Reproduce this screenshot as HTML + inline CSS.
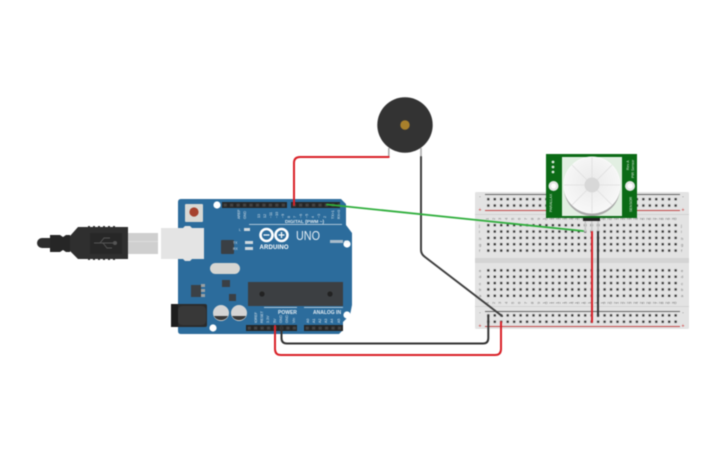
<!DOCTYPE html>
<html><head><meta charset="utf-8"><style>
html,body{margin:0;padding:0;background:#fff;width:725px;height:453px;overflow:hidden}
svg{display:block;filter:blur(0.4px)}
text{font-family:"Liberation Sans",sans-serif}
</style></head><body>
<svg xmlns="http://www.w3.org/2000/svg" width="725" height="453" viewBox="0 0 725 453">
<defs>
<pattern id="h" patternUnits="userSpaceOnUse" width="6.46" height="6.35"><rect x="1.8" y="1.75" width="2.8" height="2.8" fill="#bdbdbd"/><rect x="2.3" y="2.25" width="1.9" height="1.9" fill="#222"/></pattern>
<pattern id="p" patternUnits="userSpaceOnUse" width="6.46" height="6"><rect width="6.46" height="6" fill="#262626"/><rect x="1.6" y="1.6" width="3.2" height="3" fill="#444"/></pattern>
<radialGradient id="d" cx="50%" cy="45%" r="55%"><stop offset="0" stop-color="#eaeaea"/><stop offset="1" stop-color="#f8f8f8"/></radialGradient>
</defs>

<!-- USB cable -->
<path d="M50,238H42a5,5 0 0 0 0,10H50Z" fill="#2d2d2d"/>
<path d="M50,235H60L63,237L66,235H70V252H66L63,250L60,252H50Z" fill="#262626"/>
<path d="M70,236L78,227H128V259H78L70,251Z" fill="#2f2f2f"/>
<path d="M88,226h2v1h-2zM93,226h2v1h-2zM98,226h2v1h-2zM103,226h2v1h-2zM108,226h2v1h-2zM113,226h2v1h-2zM88,259h2v1h-2zM93,259h2v1h-2zM98,259h2v1h-2zM103,259h2v1h-2zM108,259h2v1h-2zM113,259h2v1h-2z" fill="#333"/>
<rect x="90" y="233" width="32" height="21" fill="#272727"/>
<path d="M94,243H117M100,243L104,238H110M103,243L107,248H112" stroke="#555" stroke-width="1" fill="none"/><circle cx="115" cy="243" r="2" fill="#555"/>
<rect x="128" y="233" width="30" height="21" fill="#cfcfcf"/>
<rect x="128" y="241" width="30" height="1" fill="#dcdcdc"/>

<!-- Arduino board -->
<path d="M181,199H341L346,204V225L352,233V305L350,315L343,322V330L339,334H181Q178,334 178,331V202Q178,199 181,199Z" fill="#2c6c9c"/>
<rect x="161" y="228" width="43" height="31" fill="#e4e4e4"/>
<path d="M183,228l2,-2h5l2,2zM183,259l2,2h5l2,-2z" fill="#e4e4e4"/>
<rect x="185" y="204" width="18" height="18" rx="1" fill="#d8d8d4"/>
<circle cx="194" cy="212" r="4.6" fill="#a5412d"/>
<g fill="#fff"><circle cx="217" cy="205" r="3.6"/><circle cx="347" cy="244" r="3.6"/><circle cx="347" cy="315" r="3.6"/><circle cx="213" cy="328" r="3.6"/></g>
<g transform="translate(222,202)"><rect width="65" height="6" fill="url(#p)"/></g>
<g transform="translate(291,202)"><rect width="49" height="6" fill="url(#p)"/></g>
<g transform="translate(246,325)"><rect width="51" height="6" fill="url(#p)"/></g>
<g transform="translate(304,325)"><rect width="39" height="6" fill="url(#p)"/></g>

<rect x="221" y="240" width="13" height="14" rx="1" fill="#3a3f44"/>
<rect x="210" y="263" width="30" height="11" rx="5.5" fill="#d6d6d2"/>
<rect x="222" y="280" width="8" height="7" fill="#3a3f44"/>
<path d="M191,285h10v12h-10z" fill="#3b4146"/><path d="M201,284h4v3h-4zM201,289h4v3h-4zM201,294h4v3h-4z" fill="#9aa0a4"/>
<rect x="229" y="294" width="7" height="7" fill="#3a3f44"/>
<rect x="248" y="282" width="95" height="24" fill="#3c3f42"/>
<circle cx="262" cy="294" r="2.6" fill="#222"/><circle cx="330" cy="294" r="2.6" fill="#222"/>
<rect x="171" y="304" width="36" height="23" rx="2" fill="#2b2b2b"/><rect x="171" y="304" width="7" height="23" fill="#1d1d1d"/><rect x="178" y="306" width="28" height="19" rx="4" fill="#383838"/>
<g><circle cx="221" cy="313" r="8" fill="#d4d4d4"/><path d="M214,316a8,8 0 0 0 14,0Z" fill="#3a3a3a"/></g>
<g><circle cx="239" cy="313" r="8" fill="#d4d4d4"/><path d="M232,316a8,8 0 0 0 14,0Z" fill="#3a3a3a"/></g>
<rect x="244" y="228" width="6" height="3" fill="#cfd8de"/><rect x="245" y="241" width="8" height="3" fill="#cfd8de"/><rect x="245" y="247" width="8" height="3" fill="#cfd8de"/><rect x="330" y="240" width="13" height="3" fill="#a9bccb"/>
<g fill="none" stroke="#fff" stroke-width="2.6"><circle cx="266.5" cy="235" r="6"/><circle cx="281.5" cy="235" r="6"/></g>
<path d="M263.5,235h6M278.5,235h6M281.5,232v6" stroke="#fff" stroke-width="1.3"/>
<text x="274" y="249" font-size="6" font-weight="bold" fill="#fff" text-anchor="middle" textLength="29">ARDUINO</text>
<text x="296" y="240" font-size="13" fill="#e6eef4" textLength="24" lengthAdjust="spacingAndGlyphs">UNO</text>
<text x="285" y="223" font-size="4.8" font-weight="bold" fill="#dfe8ef">DIGITAL (PWM ~)</text>
<rect x="249" y="224" width="93" height="0.8" fill="#cbd9e4"/>
<text x="278" y="314" font-size="5" font-weight="bold" fill="#e4ecf2">POWER</text>
<text x="313" y="314" font-size="5" font-weight="bold" fill="#e4ecf2">ANALOG IN</text>
<rect x="264" y="307" width="33" height="0.8" fill="#cbd9e4"/><rect x="304" y="307" width="39" height="0.8" fill="#cbd9e4"/>
<g font-size="3.6" fill="#dbe5ec">
<text transform="translate(240,219) rotate(-90)">AREF</text><text transform="translate(246,219) rotate(-90)">GND</text><text transform="translate(260,218) rotate(-90)">13</text><text transform="translate(266,218) rotate(-90)">12</text><text transform="translate(272,218) rotate(-90)">~11</text><text transform="translate(278,218) rotate(-90)">~10</text><text transform="translate(284,218) rotate(-90)">~9</text><text transform="translate(290,218) rotate(-90)">8</text><text transform="translate(296,218) rotate(-90)">7</text><text transform="translate(302,218) rotate(-90)">~6</text><text transform="translate(308,218) rotate(-90)">~5</text><text transform="translate(314,218) rotate(-90)">4</text><text transform="translate(320,218) rotate(-90)">~3</text><text transform="translate(326,218) rotate(-90)">2</text><text transform="translate(334,219) rotate(-90)">TX&gt;1</text><text transform="translate(340,219) rotate(-90)">RX&lt;0</text>
<text transform="translate(257,323) rotate(-90)">IOREF</text><text transform="translate(263,323) rotate(-90)">RESET</text><text transform="translate(269,323) rotate(-90)">3.3V</text><text transform="translate(276,323) rotate(-90)">5V</text><text transform="translate(282,323) rotate(-90)">GND</text><text transform="translate(288,323) rotate(-90)">GND</text><text transform="translate(295,323) rotate(-90)">Vin</text>
<text transform="translate(309,323) rotate(-90)">A0</text><text transform="translate(315,323) rotate(-90)">A1</text><text transform="translate(321,323) rotate(-90)">A2</text><text transform="translate(327,323) rotate(-90)">A3</text><text transform="translate(333,323) rotate(-90)">A4</text><text transform="translate(340,323) rotate(-90)">A5</text>
<text x="239" y="231" font-size="3.4">L</text><text x="233" y="244" font-size="3.4">TX</text><text x="233" y="250" font-size="3.4">RX</text><text x="344" y="243" font-size="3.2">ON</text>
</g>

<!-- Breadboard -->
<rect x="475" y="192" width="214" height="137" rx="1.5" fill="#e3e3e3"/>
<rect x="475" y="214" width="214" height="1" fill="#d2d2d2"/>
<rect x="475" y="258" width="214" height="5" fill="#d4d4d4"/>
<rect x="475" y="306" width="214" height="1" fill="#d2d2d2"/>
<rect x="485" y="194" width="195" height="1" fill="#666"/>
<rect x="485" y="210" width="195" height="1" fill="#c24a4a"/>
<rect x="485" y="311" width="195" height="1" fill="#666"/>
<rect x="485" y="326" width="195" height="1" fill="#c24a4a"/>
<g transform="translate(485.07,196)"><rect width="193.8" height="12.7" fill="url(#h)"/></g>
<g transform="translate(485.07,222)"><rect width="193.8" height="31.75" fill="url(#h)"/></g>
<g transform="translate(485.07,267.2)"><rect width="193.8" height="31.75" fill="url(#h)"/></g>
<g transform="translate(485.07,312.2)"><rect width="193.8" height="12.7" fill="url(#h)"/></g>
<g font-size="5" fill="#c33" text-anchor="middle"><text x="480" y="211.5">+</text><text x="683" y="211.5">+</text><text x="480" y="327.5">+</text><text x="683" y="327.5">+</text></g>
<g font-size="4.5" fill="#555" text-anchor="middle"><text x="480" y="198">-</text><text x="683" y="198">-</text><text x="480" y="314">-</text><text x="683" y="314">-</text></g>
<g font-size="4" fill="#777">
<text y="220" rotate="-90" x="488.3 494.8 501.2 507.7 514.1 520.6 527.1 533.5 540 545.4 547.4 551.9 553.9 558.4 560.4 564.8 566.8 571.3 573.3 577.7 579.7 584.2 586.2 590.7 592.7 597.1 599.1 603.6 605.6 610 612 616.5 618.5 623 625 629.4 631.4 635.9 637.9 642.3 644.3 648.8 650.8 655.3 657.3 661.7 663.7 668.2 670.2 674.6 676.6">123456789101112131415161718192021222324252627282930</text>
<text y="304" rotate="-90" x="488.3 494.8 501.2 507.7 514.1 520.6 527.1 533.5 540 545.4 547.4 551.9 553.9 558.4 560.4 564.8 566.8 571.3 573.3 577.7 579.7 584.2 586.2 590.7 592.7 597.1 599.1 603.6 605.6 610 612 616.5 618.5 623 625 629.4 631.4 635.9 637.9 642.3 644.3 648.8 650.8 655.3 657.3 661.7 663.7 668.2 670.2 674.6 676.6">123456789101112131415161718192021222324252627282930</text>
<text x="479" y="227">j</text><text x="479" y="233">i</text><text x="479" y="240">h</text><text x="479" y="246">g</text><text x="479" y="252">f</text>
<text x="681" y="227">j</text><text x="681" y="233">i</text><text x="681" y="240">h</text><text x="681" y="246">g</text><text x="681" y="252">f</text>
<text x="479" y="272">e</text><text x="479" y="278">d</text><text x="479" y="285">c</text><text x="479" y="291">b</text><text x="479" y="297">a</text>
<text x="681" y="272">e</text><text x="681" y="278">d</text><text x="681" y="285">c</text><text x="681" y="291">b</text><text x="681" y="297">a</text>
</g>

<!-- PIR sensor -->
<rect x="546" y="154" width="91" height="64" fill="#0b6b16"/>
<rect x="562" y="157" width="60" height="59" fill="#e2efe2"/>
<circle cx="592" cy="188" r="28" fill="#a9a9a9"/>
<circle cx="592" cy="185" r="28" fill="url(#d)" stroke="#fafafa" stroke-width="1"/>
<g stroke="#dedede" stroke-width="0.8"><path d="M592,157V178M592,192V213M564,185H585M599,185H620M572,165L587,180M597,190L612,205M612,165L597,180M587,190L572,205"/></g>
<circle cx="592" cy="185" r="7.5" fill="#d8d8d8"/>
<circle cx="553.5" cy="186" r="5" fill="#e6e6e6"/><circle cx="553.5" cy="186" r="2.6" fill="#fff"/>
<circle cx="630" cy="186" r="5" fill="#e6e6e6"/><circle cx="630" cy="186" r="2.6" fill="#fff"/>
<g fill="#dbe8db"><circle cx="553" cy="162" r="1.4"/><circle cx="553" cy="167" r="1.4"/><circle cx="553" cy="172" r="1.4"/></g>
<g font-size="3.6" fill="#dce9dc"><text transform="translate(552,212) rotate(-90)">PARALLAX</text><text transform="translate(632,212) rotate(-90)">SENSOR</text><text transform="translate(634,178) rotate(-90)">PIR Sensor</text><text transform="translate(629,170) rotate(-90)">Rev A</text></g>
<rect x="583" y="218" width="17" height="3" fill="#222"/>
<g fill="#c9c9c9"><rect x="584.5" y="221" width="1.6" height="11"/><rect x="591" y="221" width="1.6" height="11"/><rect x="597.3" y="221" width="1.6" height="11"/></g>

<!-- Buzzer -->
<rect x="388" y="148" width="1.6" height="9" fill="#aaa"/>
<rect x="420.2" y="148" width="1.6" height="9" fill="#aaa"/>
<circle cx="405" cy="125" r="27.7" fill="#333"/>
<circle cx="405" cy="125" r="4.7" fill="#a8802c"/>

<!-- Wires -->
<g fill="none" stroke-linejoin="round" stroke-linecap="round">
<path d="M388.7,157H300Q294,157 294,163V205" stroke="#d92027" stroke-width="2"/>
<path d="M421,157V250Q421,254 425,257L502,316" stroke="#3f3f3f" stroke-width="2"/>
<path d="M281.5,326V338Q281.5,343.5 287,343.5H483Q488.3,343.5 488.3,338V316" stroke="#333" stroke-width="2"/>
<path d="M275,326V349Q275,355 281,355H495Q501,355 501,349V322" stroke="#d92027" stroke-width="2"/>
<path d="M327,204.5L583,231" stroke="#2fae3c" stroke-width="1.8"/>
<path d="M592,232V322" stroke="#d92027" stroke-width="2"/>
<path d="M598,232V316" stroke="#333" stroke-width="2"/>
</g>
</svg>
</body></html>
